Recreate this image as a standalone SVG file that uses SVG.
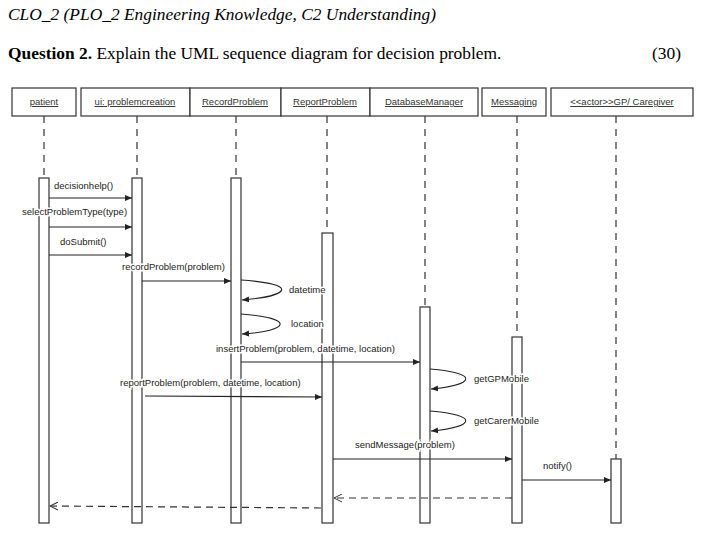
<svg xmlns="http://www.w3.org/2000/svg" width="704" height="533" viewBox="0 0 704 533">
<style>
.t{font-family:"Liberation Serif",serif;font-size:17.4px;fill:#000}
.h{font-family:"Liberation Sans",sans-serif;font-size:9.5px;fill:#333;text-decoration:underline}
.m{font-family:"Liberation Sans",sans-serif;font-size:9.5px;fill:#222;stroke:#fff;stroke-width:3;paint-order:stroke}
.box{fill:#fff;stroke:#333;stroke-width:1.2}
.act{fill:#fff;stroke:#333;stroke-width:1.2}
.ll{stroke:#333;stroke-width:1.2;stroke-dasharray:7,6}
.msg{stroke:#222;stroke-width:1.1;fill:none}
.ret{stroke:#333;stroke-width:1.2;fill:none;stroke-dasharray:7,5}
</style>
<defs>
<marker id="f" markerWidth="8" markerHeight="8" refX="7" refY="4" orient="auto" markerUnits="userSpaceOnUse"><path d="M0,1 L7,4 L0,7z" fill="#222"/></marker>
<marker id="o" markerWidth="9" markerHeight="9" refX="8" refY="4.5" orient="auto" markerUnits="userSpaceOnUse"><path d="M0,0.5 L8,4.5 L0,8.5" fill="none" stroke="#333"/></marker>
</defs>
<rect width="704" height="533" fill="#fff"/>
<text class="t" x="8" y="20" font-style="italic">CLO_2 (PLO_2 Engineering Knowledge, C2 Understanding)</text>
<text class="t" x="8" y="59"><tspan font-weight="bold">Question 2.</tspan> Explain the UML sequence diagram for decision problem.</text>
<text class="t" x="652" y="59">(30)</text>

<g id="patient"><rect class="box" x="12" y="88" width="64" height="28"/><text class="h" x="44" y="105" text-anchor="middle">patient</text><line class="ll" x1="44" y1="116" x2="44" y2="178"/><rect class="act" x="39" y="178" width="10" height="345"/></g>
<g id="ui"><rect class="box" x="81" y="88" width="109" height="28"/><text class="h" x="135" y="105" text-anchor="middle">ui: problemcreation</text><line class="ll" x1="137" y1="116" x2="137" y2="178"/><rect class="act" x="132" y="178" width="10" height="345"/></g>
<g id="record"><rect class="box" x="190" y="88" width="91" height="28"/><text class="h" x="235" y="105" text-anchor="middle">RecordProblem</text><line class="ll" x1="236" y1="116" x2="236" y2="178"/><rect class="act" x="231" y="178" width="10" height="345"/></g>
<g id="report"><rect class="box" x="281" y="88" width="89" height="28"/><text class="h" x="325" y="105" text-anchor="middle">ReportProblem</text><line class="ll" x1="327" y1="116" x2="327" y2="233"/><rect class="act" x="322" y="233" width="11" height="290"/></g>
<g id="db"><rect class="box" x="370" y="88" width="108" height="28"/><text class="h" x="424" y="105" text-anchor="middle">DatabaseManager</text><line class="ll" x1="425" y1="116" x2="425" y2="307"/><rect class="act" x="420" y="307" width="10" height="216"/></g>
<g id="messaging"><rect class="box" x="482" y="88" width="64" height="28"/><text class="h" x="514" y="105" text-anchor="middle">Messaging</text><line class="ll" x1="517" y1="116" x2="517" y2="337"/><rect class="act" x="512" y="337" width="10" height="186"/></g>
<g id="gp"><rect class="box" x="551" y="88" width="142" height="28"/><text class="h" x="622" y="105" text-anchor="middle">&lt;&lt;actor&gt;&gt;GP/ Caregiver</text><line class="ll" x1="616" y1="116" x2="616" y2="459"/><rect class="act" x="611" y="459" width="10" height="64"/></g>

<g id="connectors">
<line class="msg" x1="49" y1="198" x2="132" y2="198" marker-end="url(#f)"/>
<text class="m" x="54" y="189">decisionhelp()</text>
<line class="msg" x1="49" y1="227" x2="132" y2="227" marker-end="url(#f)"/>
<text class="m" x="22" y="215">selectProblemType(type)</text>
<line class="msg" x1="49" y1="255" x2="132" y2="255" marker-end="url(#f)"/>
<text class="m" x="60" y="245">doSubmit()</text>
<line class="msg" x1="142" y1="281" x2="231" y2="281" marker-end="url(#f)"/>
<text class="m" x="122" y="270">recordProblem(problem)</text>
<path class="msg" d="M241,280 C300,284 290,296 242,300" marker-end="url(#f)"/>
<text class="m" x="289" y="293">datetime</text>
<path class="msg" d="M241,314 C296,318 290,331 242,334" marker-end="url(#f)"/>
<text class="m" x="291" y="327">location</text>
<line class="msg" x1="241" y1="362" x2="420" y2="362" marker-end="url(#f)"/>
<text class="m" x="216" y="352">insertProblem(problem, datetime, location)</text>
<line class="msg" x1="145" y1="396" x2="322" y2="397" marker-end="url(#f)"/>
<text class="m" x="120" y="386">reportProblem(problem, datetime, location)</text>
<path class="msg" d="M430,369 C480,373 475,385 431,389" marker-end="url(#f)"/>
<text class="m" x="474" y="382">getGPMobile</text>
<path class="msg" d="M430,411 C480,415 475,427 431,431" marker-end="url(#f)"/>
<text class="m" x="474" y="424">getCarerMobile</text>
<line class="msg" x1="333" y1="459" x2="512" y2="459" marker-end="url(#f)"/>
<text class="m" x="355" y="448">sendMessage(problem)</text>
<line class="msg" x1="522" y1="480" x2="611" y2="480" marker-end="url(#f)"/>
<text class="m" x="543" y="469">notify()</text>
<line class="ret" x1="512" y1="498" x2="334" y2="498" marker-end="url(#o)"/>
<line class="ret" x1="321" y1="508" x2="50" y2="506" marker-end="url(#o)"/>
</g>
</svg>
